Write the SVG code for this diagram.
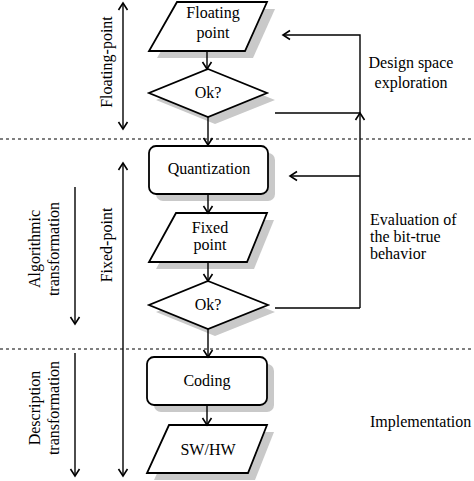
<svg xmlns="http://www.w3.org/2000/svg" width="474" height="481" viewBox="0 0 474 481">
<defs>
<marker id="ah" markerWidth="12" markerHeight="12" refX="9" refY="6" orient="auto-start-reverse" markerUnits="userSpaceOnUse">
<path d="M2,1.5 L9,6 L2,10.5" fill="none" stroke="#000" stroke-width="1.6"/>
</marker>
</defs>
<style>
.sh{fill:#c9c9c9;stroke:none}
.nd{fill:#fff;stroke:#000;stroke-width:1.8}
.t{font-family:"Liberation Serif",serif;font-size:16px;fill:#000}
.c{text-anchor:middle}
.ln{fill:none;stroke:#000;stroke-width:1.4}
.ar{fill:none;stroke:#000;stroke-width:1.4;marker-end:url(#ah)}
.dd{fill:none;stroke:#000;stroke-width:1.4;marker-start:url(#ah);marker-end:url(#ah)}
.ds{stroke:#000;stroke-width:1.2;stroke-dasharray:3,3}
</style>
<rect width="474" height="481" fill="#fff"/>
<g id="separators">
<line class="ds" x1="0" y1="139" x2="474" y2="139"/>
<line class="ds" x1="0" y1="349" x2="474" y2="349"/>
</g>
<g id="node-floating">
<polygon class="sh" points="185,9 275,9 253,58 157,58"/>
<polygon class="nd" points="177,2 267,2 245,51 149,51"/>
<text class="t c" x="213" y="18">Floating</text>
<text class="t c" x="213" y="38">point</text>
</g>
<g id="node-ok1">
<polygon class="sh" points="215,76 275,100 215,124 156,100"/>
<polygon class="nd" points="208,69 267,93 208,117 149,93"/>
<text class="t c" x="208" y="98">Ok?</text>
</g>
<g id="node-quant">
<rect class="sh" x="156" y="153" width="119" height="48" rx="7"/>
<rect class="nd" x="149" y="146" width="119" height="48" rx="7"/>
<text class="t c" x="209" y="174">Quantization</text>
</g>
<g id="node-fixed">
<polygon class="sh" points="183,220 274,220 254,269 156,269"/>
<polygon class="nd" points="176,213 267,213 247,262 149,262"/>
<text class="t c" x="210" y="233">Fixed</text>
<text class="t c" x="210" y="250">point</text>
</g>
<g id="node-ok2">
<polygon class="sh" points="215,288 275,312 215,336 156,312"/>
<polygon class="nd" points="208,281 268,305 208,329 149,305"/>
<text class="t c" x="208" y="310">Ok?</text>
</g>
<g id="node-coding">
<rect class="sh" x="154" y="364" width="120" height="48" rx="7"/>
<rect class="nd" x="147" y="357" width="120" height="48" rx="7"/>
<text class="t c" x="207" y="386">Coding</text>
</g>
<g id="node-swhw">
<polygon class="sh" points="176,432 274,432 255,480 154,480"/>
<polygon class="nd" points="169,425 267,425 248,473 147,473"/>
<text class="t c" x="208" y="455">SW/HW</text>
</g>
<g id="connectors">
<line class="ar" x1="207" y1="51" x2="207" y2="69"/>
<line class="ar" x1="208" y1="117" x2="208" y2="145"/>
<line class="ar" x1="208" y1="194" x2="208" y2="213"/>
<line class="ar" x1="208" y1="262" x2="208" y2="281"/>
<line class="ar" x1="208" y1="329" x2="208" y2="357"/>
<line class="ar" x1="207" y1="405" x2="207" y2="425"/>
<path class="ln" d="M275,113 H360"/>
<path class="ar" d="M360,308 V113"/>
<path class="ar" d="M360,113 V35 H283"/>
<path class="ar" d="M360,176 H290"/>
<path class="ln" d="M275,308 H360"/>
<line class="dd" x1="123" y1="3" x2="123" y2="129"/>
<line class="dd" x1="123" y1="163" x2="123" y2="476"/>
<line class="ar" x1="75" y1="187" x2="75" y2="324"/>
<line class="ar" x1="75" y1="353" x2="75" y2="476"/>
</g>
<g id="labels">
<text class="t c" transform="translate(112,62) rotate(-90)">Floating-point</text>
<text class="t c" transform="translate(112,245) rotate(-90)">Fixed-point</text>
<text class="t c" transform="translate(40,249) rotate(-90)">Algorithmic</text>
<text class="t c" transform="translate(59,249) rotate(-90)">transformation</text>
<text class="t c" transform="translate(40,408) rotate(-90)">Description</text>
<text class="t c" transform="translate(59,408) rotate(-90)">transformation</text>
<text class="t c" x="411" y="68">Design space</text>
<text class="t c" x="411" y="88">exploration</text>
<text class="t" x="370" y="225">Evaluation of</text>
<text class="t" x="370" y="242">the bit-true</text>
<text class="t" x="370" y="259">behavior</text>
<text class="t" x="370" y="427">Implementation</text>
</g>
</svg>
